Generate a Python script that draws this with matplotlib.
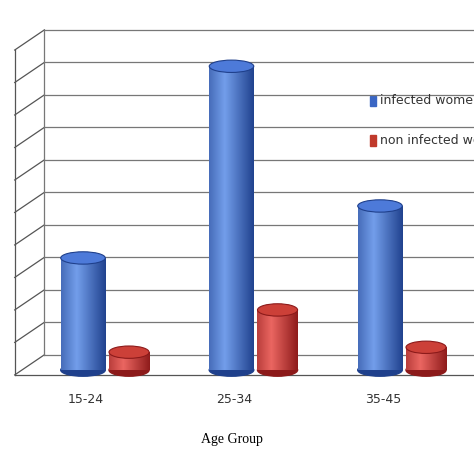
import matplotlib
matplotlib.use("Agg")
import matplotlib.pyplot as plt
import numpy as np
from matplotlib.patches import Ellipse, Rectangle

categories = ["15-24", "25-34", "35-45"]
infected = [36, 95, 52]
non_infected = [7, 20, 8.5]
series_names = ["infected women", "non infected women"]

fig = plt.figure(figsize=(4.74, 4.74), dpi=100)
ax = fig.add_axes([0, 0, 1, 1])
ax.set_xlim(-0.559, 2.633)
ax.set_ylim(-30.5, 115.4)
ax.axis("off")

# grid / walls
fx, bx, off = -0.46, -0.26, 6.2
for lv in range(0, 101, 10):
    ax.plot([fx, bx], [lv, lv + off], color="#555555", lw=0.9)
    ax.plot([bx, 2.7], [lv + off, lv + off], color="#777777", lw=0.9)
ax.plot([fx, fx], [0, 100], color="#555555", lw=0.9)
ax.plot([bx, bx], [off, 100 + off], color="#777777", lw=0.9)
ax.plot([fx, 2.7], [0, 0], color="#555555", lw=0.9)

def cylinder(xc, h, w, base, light, dark, top):
    eh = 3.8
    x0 = xc - w / 2
    grad = np.linspace(0, 1, 100)
    prof = 1 - np.abs(grad - 0.35) * 1.5
    prof = np.clip(prof, 0, 1)
    cols = np.array([np.array(dark) + (np.array(light) - np.array(dark)) * p for p in prof])[None, :, :]
    body = Rectangle((x0, 1.5), w, h - 1.5, transform=ax.transData)
    ax.add_patch(Ellipse((xc, 1.5), w, eh, color=dark, zorder=2))
    im = ax.imshow(cols, extent=[x0, x0 + w, 1.5, h], aspect="auto", zorder=3)
    im.set_clip_path(body)
    ax.add_patch(Ellipse((xc, h), w, eh, facecolor=top, edgecolor=dark, lw=0.8, zorder=4))

for i in range(len(categories)):
    cylinder(i, infected[i], 0.30, 0, (0.45, 0.62, 0.92), (0.12, 0.25, 0.55), (0.30, 0.48, 0.85))
    cylinder(i + 0.31, non_infected[i], 0.27, 0, (0.92, 0.40, 0.38), (0.55, 0.10, 0.10), (0.80, 0.25, 0.22))
    ax.text(i + 0.02, -7.7, categories[i], ha="center", va="center", fontsize=9, color="#333333")

ax.text(1.0, -20, "Age Group", ha="center", va="center", fontsize=10, family="Liberation Serif")

ax.add_patch(Rectangle((1.93, 82.8), 0.04, 3.2, color="#3A66C4"))
ax.text(2.0, 84.4, series_names[0], va="center", fontsize=9, color="#333333")
ax.add_patch(Rectangle((1.93, 70.6), 0.04, 3.2, color="#C0392B"))
ax.text(2.0, 72.2, series_names[1], va="center", fontsize=9, color="#333333")

fig.savefig("out.png", dpi=100)
